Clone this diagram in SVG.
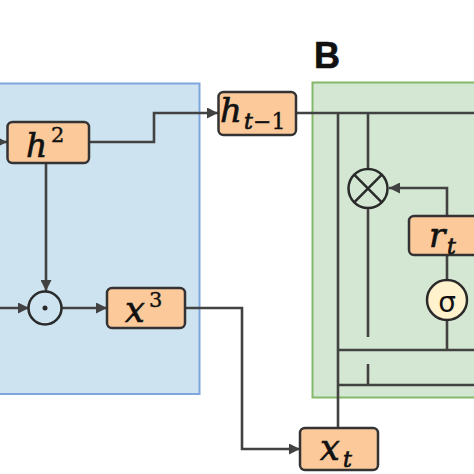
<svg xmlns="http://www.w3.org/2000/svg" width="474" height="474" viewBox="0 0 474 474">
<style>
.box{fill:#fcc99a;stroke:#333;stroke-width:2.5}
.ln{fill:none;stroke:#424242;stroke-width:2.6}
.m{font-family:"DejaVu Serif",serif;font-style:italic;fill:#111;stroke:#111;stroke-width:0.7}
.n{font-family:"DejaVu Serif",serif;fill:#111;stroke:#111;stroke-width:0.4}
</style>
<defs>
<marker id="ar" viewBox="0 0 10 10" refX="10" refY="5" markerWidth="13" markerHeight="11" markerUnits="userSpaceOnUse" orient="auto"><path d="M0,0 L10,5 L0,10 z" fill="#424242"/></marker>
</defs>
<rect width="474" height="474" fill="#fff"/>
<g id="panelA"><rect x="-10" y="83.5" width="209.5" height="310.5" fill="#cde3f0" stroke="#7fa6dc" stroke-width="2"/></g>
<g id="panelB"><rect x="312.5" y="82.5" width="180" height="315" fill="#d4e7d3" stroke="#84b86a" stroke-width="2"/>
<text x="327" y="68" text-anchor="middle" font-family="Liberation Sans,Arial,sans-serif" font-weight="bold" font-size="36" fill="#111" stroke="#111" stroke-width="0.6">B</text></g>
<g id="connectors">
<path class="ln" d="M-20,142 H7" marker-end="url(#ar)"/>
<path class="ln" d="M89,142 H154 V113 H218" marker-end="url(#ar)"/>
<path class="ln" d="M46,163 V291" marker-end="url(#ar)"/>
<path class="ln" d="M-20,308 H29" marker-end="url(#ar)"/>
<path class="ln" d="M62,308 H107" marker-end="url(#ar)"/>
<path class="ln" d="M185,308 H242 V449 H300" marker-end="url(#ar)"/>
<path class="ln" d="M296,113 H480"/>
<path class="ln" d="M338,113 V428"/>
<path class="ln" d="M368,113 V169"/>
<path class="ln" d="M368,208 V337"/>
<path class="ln" d="M368,364 V385"/>
<path class="ln" d="M338,350 H480"/>
<path class="ln" d="M338,385 H480"/>
<path class="ln" d="M447,216 V188 H389" marker-end="url(#ar)"/>
<path class="ln" d="M447,254 V280"/>
<path class="ln" d="M447,320 V350"/>
</g>
<g id="h2"><rect class="box" x="7.5" y="122" width="81.5" height="41" rx="5"/>
<text class="m" x="26" y="157" font-size="33">h</text><text class="n" x="51" y="142" font-size="21">2</text></g>
<g id="odot"><circle cx="45" cy="308" r="16.5" fill="none" stroke="#2a2a2a" stroke-width="2.5"/><circle cx="45" cy="308" r="2.5" fill="#2a2a2a"/></g>
<g id="x3"><rect class="box" x="107" y="288" width="78" height="40" rx="5"/>
<text class="m" x="125" y="322" font-size="35">x</text><text class="n" x="149" y="307" font-size="21">3</text></g>
<g id="ht1"><rect class="box" x="218.5" y="92" width="77.5" height="43" rx="5"/>
<text class="m" x="220" y="122" font-size="34">h</text><text class="m" x="244" y="129" font-size="22">t</text><text class="n" x="253" y="129" font-size="22">−1</text></g>
<g id="otimes"><circle cx="368" cy="188.5" r="19.5" fill="none" stroke="#2a2a2a" stroke-width="2.5"/><path d="M354.2,174.7 L381.8,202.3 M381.8,174.7 L354.2,202.3" stroke="#2a2a2a" stroke-width="2.5"/></g>
<g id="rt"><rect class="box" x="409" y="216" width="80" height="39" rx="5"/>
<text class="m" x="429" y="247" font-size="34">r</text><text class="m" x="447" y="254" font-size="22">t</text></g>
<g id="sigma"><circle cx="447" cy="300" r="20" fill="#fff2cc" stroke="#2a2a2a" stroke-width="2.5"/>
<text x="447" y="312" text-anchor="middle" font-family="DejaVu Sans,sans-serif" font-size="28" fill="#111">σ</text></g>
<g id="xt"><rect class="box" x="300" y="428" width="78" height="42" rx="5"/>
<text class="m" x="320" y="460" font-size="35">x</text><text class="m" x="343" y="467" font-size="22">t</text></g>
</svg>
